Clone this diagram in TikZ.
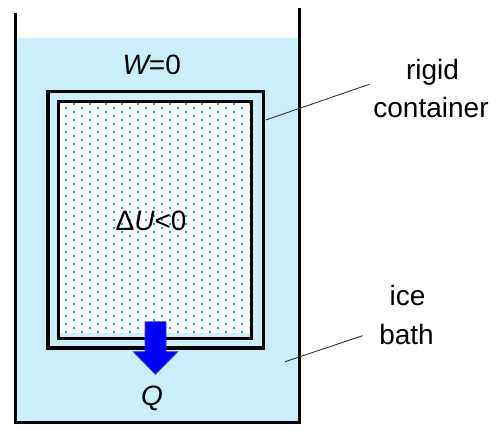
\documentclass[tikz,border=0pt]{standalone}
\usepackage{fontspec}
\setmainfont{Liberation Sans}
\definecolor{bathblue}{RGB}{204,238,250}
\definecolor{dotc}{RGB}{0,176,240}
\definecolor{arrowedge}{RGB}{60,60,220}
\begin{document}
\begin{tikzpicture}[x=1pt,y=-1pt,
  lbl/.style={font=\fontsize{28}{34}\selectfont, inner sep=0pt, anchor=base},
  wall/.style={line width=3pt, black},
  boxline/.style={line width=3.2pt, black},
  leader/.style={line width=0.9pt, black!80},
  heatarrow/.style={fill=blue, draw=arrowedge, line width=0.8pt}]
\useasboundingbox (0,0) rectangle (502,430);
% bath water
\fill[bathblue] (15.3,37.7) rectangle (299,422);
% gas region
\fill[white] (60,102.5) rectangle (250.5,332.7);
\begin{scope}
  \clip (60,102.5) rectangle (249.5,332.7);
  \foreach \i in {0,...,23} {
    \foreach \j in {0,...,29} {
      \fill[dotc] ({66+8*\i-1},{103+4*mod(\i+1,2)+8*\j}) rectangle ++(2,2);
    }
  }
\end{scope}
% container walls
\draw[boxline] (48,91.5) rectangle (263.7,348);
\draw[boxline] (58.8,101.5) rectangle (251.3,338.2);
% bath walls
\draw[wall] (15.3,12.7) -- (15.3,422) -- (299,422) -- (299,8.3);
% heat arrow
\filldraw[heatarrow] (145,321.7) -- (166,321.7) -- (166,351.7) -- (177.7,351.7)
  -- (155.4,374.3) -- (133.3,351.7) -- (145,351.7) -- cycle;
% labels
\node[lbl] (w) at (151.7,75) {{\itshape W}=0};
\node[lbl] (du) at (151,230) {Δ{\itshape U}<0};
\node[lbl] (q) at (152,405) {\itshape Q};
\node[lbl] (rigid) at (432.5,79.3) {rigid};
\node[lbl] (cont) at (431,117.3) {container};
\node[lbl] (ice) at (407.5,305) {ice};
\node[lbl] (bathl) at (406.5,344) {bath};
% leaders
\coordinate (c1) at (265.7,120);
\coordinate (c2) at (369.3,84.3);
\coordinate (b1) at (285,361.7);
\coordinate (b2) at (362.7,335.7);
\draw[leader] (c1) -- (c2);
\draw[leader] (b1) -- (b2);
\end{tikzpicture}
\end{document}
